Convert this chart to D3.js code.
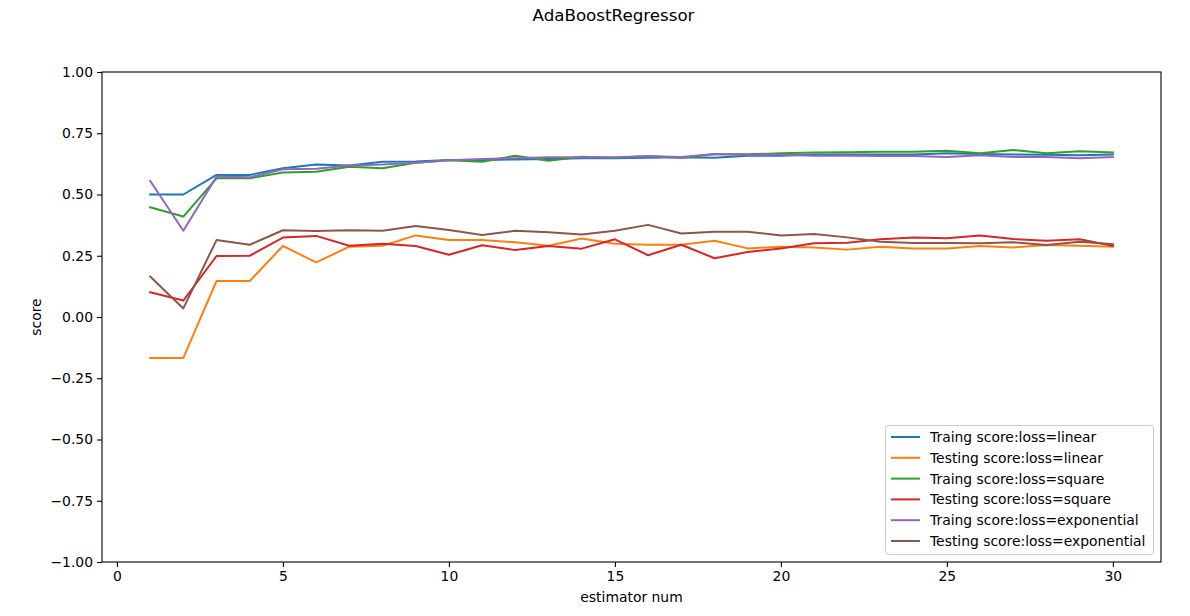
<!DOCTYPE html>
<html>
<head>
<meta charset="utf-8">
<script src="https://cdn.jsdelivr.net/npm/d3@7"></script>
<style>
  body { margin: 0; background: #fff; }
  svg { font-family: "DejaVu Sans", sans-serif; }
</style>
</head>
<body>
<svg id="chart" width="1190" height="616"></svg>
<script>
const estimators = d3.range(1, 31);
const trainLinear = [0.50,0.50,0.58,0.58,0.607,0.622,0.618,0.634,0.635,0.641,0.641,0.643,0.645,0.648,0.648,0.650,0.652,0.650,0.658,0.658,0.663,0.663,0.663,0.663,0.668,0.665,0.663,0.662,0.660,0.663];
const testLinear = [-0.167,-0.167,0.147,0.147,0.290,0.223,0.287,0.291,0.333,0.314,0.314,0.305,0.291,0.320,0.299,0.295,0.295,0.311,0.280,0.287,0.284,0.275,0.287,0.280,0.280,0.290,0.284,0.294,0.291,0.287];
const trainSquare = [0.448,0.41,0.566,0.566,0.590,0.593,0.613,0.607,0.630,0.640,0.634,0.658,0.638,0.654,0.650,0.657,0.650,0.664,0.664,0.668,0.671,0.672,0.674,0.674,0.679,0.668,0.682,0.668,0.677,0.672];
const testSquare = [0.101,0.067,0.249,0.250,0.324,0.331,0.291,0.299,0.290,0.254,0.293,0.273,0.290,0.279,0.317,0.252,0.295,0.240,0.265,0.280,0.301,0.303,0.317,0.324,0.321,0.333,0.318,0.311,0.317,0.291];
const trainExp = [0.556,0.352,0.573,0.570,0.603,0.605,0.618,0.622,0.630,0.640,0.645,0.648,0.652,0.652,0.652,0.656,0.653,0.665,0.662,0.662,0.658,0.658,0.657,0.657,0.653,0.660,0.653,0.653,0.648,0.653];
const testExp = [0.165,0.035,0.314,0.295,0.354,0.351,0.354,0.352,0.371,0.355,0.335,0.352,0.346,0.337,0.352,0.376,0.341,0.348,0.348,0.333,0.339,0.325,0.307,0.302,0.302,0.301,0.305,0.294,0.307,0.297];
const seriesNames = ["Traing score:loss=linear","Testing score:loss=linear","Traing score:loss=square","Testing score:loss=square","Traing score:loss=exponential","Testing score:loss=exponential"];
const seriesValues = [trainLinear, testLinear, trainSquare, testSquare, trainExp, testExp];
const colors = ["#1f77b4","#ff7f0e","#2ca02c","#d62728","#9467bd","#8c564b"];
const xTicks = [0,5,10,15,20,25,30];
const yTicks = [-1.00,-0.75,-0.50,-0.25,0.00,0.25,0.50,0.75,1.00];

const svg = d3.select("#chart");
const L = 102, R = 1161, T = 72, B = 562;
const FS = "13.9px";
const x = d3.scaleLinear().domain([-0.45, 31.45]).range([L, R]);
const y = d3.scaleLinear().domain([-1, 1]).range([B, T]);

svg.append("text").attr("x", 613.5).attr("y", 21).attr("text-anchor", "middle")
  .attr("font-size", "16.7px").text("AdaBoostRegressor");

const gx = svg.append("g").attr("transform", `translate(0,${B})`)
  .call(d3.axisBottom(x).tickValues(xTicks).tickFormat(d3.format("d")).tickSize(5).tickPadding(4));
const gy = svg.append("g").attr("transform", `translate(${L},0)`)
  .call(d3.axisLeft(y).tickValues(yTicks).tickFormat(d3.format(".2f")).tickSize(5).tickPadding(4));
[gx, gy].forEach(g => {
  g.selectAll("text").attr("font-size", FS).attr("fill", "#000").attr("font-family", "DejaVu Sans, sans-serif");
  g.selectAll("line").attr("stroke", "#000").attr("stroke-width", 1.1);
  g.select(".domain").remove();
});

const lineGen = d3.line().x((d, i) => x(estimators[i])).y(d => y(d));
seriesValues.forEach((vals, k) => {
  svg.append("path").datum(vals).attr("d", lineGen)
    .attr("fill", "none").attr("stroke", colors[k]).attr("stroke-width", 2)
    .attr("stroke-linejoin", "round").attr("stroke-linecap", "square");
});

svg.append("rect").attr("x", L).attr("y", T).attr("width", R - L).attr("height", B - T)
  .attr("fill", "none").attr("stroke", "#000").attr("stroke-width", 1.1);

svg.append("text").attr("x", (L + R) / 2).attr("y", 602).attr("text-anchor", "middle")
  .attr("font-size", FS).text("estimator num");
svg.append("text").attr("transform", `translate(41,${(T + B) / 2}) rotate(-90)`)
  .attr("text-anchor", "middle").attr("font-size", FS).text("score");

// legend
const lg = svg.append("g");
lg.append("rect").attr("x", 885.5).attr("y", 425.5).attr("width", 268).attr("height", 129)
  .attr("rx", 3).attr("fill", "#fff").attr("fill-opacity", 0.8).attr("stroke", "#ccc").attr("stroke-width", 1);
seriesNames.forEach((name, k) => {
  const yy = 437 + k * 20.8;
  lg.append("line").attr("x1", 891).attr("x2", 920).attr("y1", yy).attr("y2", yy)
    .attr("stroke", colors[k]).attr("stroke-width", 2);
  lg.append("text").attr("x", 930).attr("y", yy + 5).attr("font-size", FS).text(name);
});
</script>
</body>
</html>
